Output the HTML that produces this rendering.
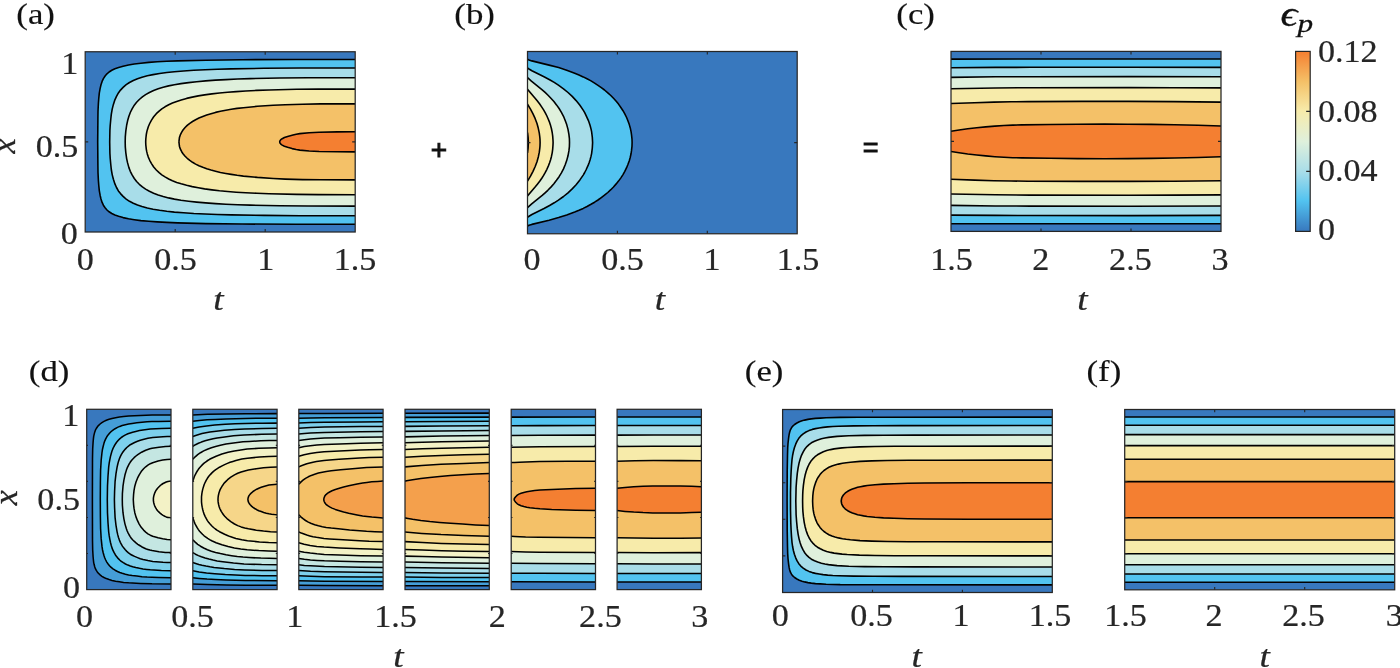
<!DOCTYPE html>
<html><head><meta charset="utf-8"><title>figure</title>
<style>html,body{margin:0;padding:0;background:#fff;overflow:hidden}svg{display:block}</style></head>
<body>
<svg width="1400" height="668" viewBox="0 0 1400 668">
<rect width="1400" height="668" fill="#fff"/>
<clipPath id="c1"><rect x="85.2" y="51.75" width="270" height="180.25"/></clipPath>
<g clip-path="url(#c1)">
<rect x="85.2" y="51.75" width="270" height="180.25" fill="#3878be"/>
<path d="M97.7 141.9L97.9 118.4L98 111.2L98.4 103.2L98.8 98.2L99.3 93.1L100.1 88.6L101 84.8L102.1 81.4L103.4 78.6L105.1 76L107 73.8L109.1 72L111.8 70.3L114.9 68.8L118.6 67.4L123.1 66.2L128.5 65L134.3 64L140.9 63.2L148.8 62.4L157.3 61.8L166.8 61.3L177.6 60.9L205.9 60.2L242.1 59.7L295.7 59.5L355.2 59.5L355.2 224.3L295.7 224.3L242.1 224L205.9 223.6L177.6 222.9L166.8 222.4L157.3 221.9L148.8 221.3L140.9 220.6L134.3 219.7L128.5 218.8L123.1 217.6L118.6 216.3L114.9 215L111.8 213.5L109.1 211.8L107 210L105.1 207.7L103.4 205.2L102.1 202.4L101 199L100.1 195.2L99.3 190.6L98.8 185.6L98.4 180.6L98 172.6L97.9 165.4L97.7 141.9Z" fill="#52c3f0"/>
<path d="M109.7 141.9L109.9 130.6L110.2 125.5L110.8 119L111.3 114.3L112.2 109.1L113.4 104.4L114.9 99.8L116.5 96.3L118.4 92.9L120.5 90.1L123.1 87.4L124.5 86.1L126.2 84.7L129.5 82.5L133.3 80.5L137.5 78.7L142 77.2L147.3 75.8L153.1 74.6L159.6 73.5L166.8 72.5L174.4 71.7L183.5 71L193.8 70.3L205.1 69.7L217.3 69.3L231.2 68.9L263.9 68.3L300.2 68L355.2 68L355.2 215.8L300.2 215.7L263.9 215.4L231.2 214.9L217.3 214.5L205.1 214L193.8 213.5L183.5 212.8L174.4 212.1L166.8 211.3L159.6 210.3L153.1 209.2L147.3 208L142 206.5L137.5 205L133.3 203.2L129.5 201.3L126.2 199.1L124.5 197.7L123.1 196.4L120.5 193.6L118.4 190.9L116.5 187.5L114.9 183.9L113.4 179.3L112.2 174.6L111.3 169.5L110.8 164.8L110.2 158.2L109.9 153.1L109.7 141.9Z" fill="#a8dde9"/>
<path d="M125.2 141.9L125.3 136.9L125.8 131.1L126.7 125L127.6 120.8L128.9 116.2L130.3 112.5L132.1 108.9L134.3 105.2L136.6 102.3L139.3 99.5L142.4 96.8L145.6 94.6L149.4 92.5L153.6 90.5L158.2 88.8L163.2 87.2L168.6 85.9L174.4 84.7L181 83.6L188.6 82.6L196.7 81.7L205.6 80.9L215.5 80.1L225.9 79.6L237.6 79L250.2 78.6L279.9 78L308.2 77.7L355.2 77.7L355.2 206.1L308.2 206L279.9 205.8L250.2 205.1L237.6 204.7L225.9 204.2L215.5 203.6L205.6 202.9L196.7 202.1L188.6 201.2L181 200.2L174.4 199.1L168.6 197.9L163.2 196.5L158.2 195L153.6 193.2L149.4 191.2L145.6 189.1L142.4 186.9L139.3 184.3L136.6 181.5L134.3 178.5L132.1 174.9L130.3 171.3L128.9 167.6L127.6 162.9L126.7 158.8L125.8 152.6L125.3 146.9L125.2 141.9Z" fill="#dff0dc"/>
<path d="M145.7 141.9L145.8 139L146.3 134.5L146.8 131.9L147.3 129.9L148.3 126.7L149.7 123.5L151.5 120.1L153.7 116.8L156.3 113.7L159.1 111.1L161.8 108.9L165 106.8L168.7 104.8L172.4 103.1L176.7 101.4L181.2 99.9L186.6 98.4L192.2 97.1L198.3 95.9L204.6 94.9L211.9 93.9L219.5 93L227.6 92.2L236.2 91.6L245.7 91L256.8 90.4L269.1 90L296.6 89.3L318.2 89.1L355.2 89.1L355.2 194.7L318.2 194.6L296.6 194.4L269.1 193.8L256.8 193.3L245.7 192.8L236.2 192.2L227.6 191.5L219.5 190.8L211.9 189.9L204.6 188.9L198.3 187.8L192.2 186.6L186.6 185.3L181.2 183.8L176.7 182.4L172.4 180.7L168.7 179L165 176.9L161.8 174.8L159.1 172.7L156.3 170L153.7 167L151.5 163.6L149.7 160.3L148.3 157.1L147.3 153.9L146.8 151.9L146.3 149.3L145.8 144.8L145.7 141.9Z" fill="#f7ebaa"/>
<path d="M178.9 141.9L179 141.2L179.4 137.8L179.6 137L180.3 134.9L181.7 132.1L183 130L185.1 127.5L187.2 125.4L189.8 123.3L192.5 121.5L195.6 119.7L198.9 118L202.8 116.4L206.7 115L211 113.7L215.5 112.4L220.4 111.3L225.8 110.2L231.2 109.3L237.1 108.4L243.4 107.7L257.4 106.3L273.2 105.3L285.3 104.7L302.5 104.2L320.5 103.9L355.2 103.9L355.2 179.9L320.5 179.8L302.5 179.6L285.3 179.1L273.2 178.5L257.4 177.4L243.4 176.1L237.1 175.3L231.2 174.4L225.8 173.5L220.4 172.5L215.5 171.3L211 170.1L206.7 168.8L202.8 167.3L198.9 165.7L195.6 164.1L192.5 162.3L189.8 160.4L187.2 158.3L185.1 156.2L183 153.7L181.7 151.7L180.3 148.9L179.6 146.8L179.4 146L179 142.5L178.9 141.9Z" fill="#f4c168"/>
<path d="M279.7 141.9L279.9 140.9L280.4 140.2L280.8 139.7L282.2 138.7L284.4 137.5L287.6 136.4L292.1 135.2L296.2 134.2L299.8 133.6L309.2 132.8L319.1 132.3L337.2 131.9L355.2 131.8L355.2 151.9L337.2 151.8L319.1 151.5L309.2 151L299.8 150.1L296.2 149.5L292.1 148.6L287.6 147.3L284.4 146.2L282.2 145.1L280.8 144.1L280.4 143.6L279.9 142.8L279.7 141.9Z" fill="#f47f31"/>
<path d="M355.2 59.5L295.7 59.5L242.1 59.7L205.9 60.2L177.6 60.9L166.8 61.3L157.3 61.8L148.8 62.4L140.9 63.2L134.3 64L128.5 65L123.1 66.2L118.6 67.4L114.9 68.8L111.8 70.3L109.1 72L107 73.8L105.1 76L103.4 78.6L102.1 81.4L101 84.8L100.1 88.6L99.3 93.1L98.8 98.2L98.4 103.2L98 111.2L97.9 118.4L97.7 141.9L97.7 141.9L97.9 165.4L98 172.6L98.4 180.6L98.8 185.6L99.3 190.6L100.1 195.2L101 199L102.1 202.4L103.4 205.2L105.1 207.7L107 210L109.1 211.8L111.8 213.5L114.9 215L118.6 216.3L123.1 217.6L128.5 218.8L134.3 219.7L140.9 220.6L148.8 221.3L157.3 221.9L166.8 222.4L177.6 222.9L205.9 223.6L242.1 224L295.7 224.3L355.2 224.3 M355.2 68L300.2 68L263.9 68.3L231.2 68.9L217.3 69.3L205.1 69.7L193.8 70.3L183.5 71L174.4 71.7L166.8 72.5L159.6 73.5L153.1 74.6L147.3 75.8L142 77.2L137.5 78.7L133.3 80.5L129.5 82.5L126.2 84.7L124.5 86.1L123.1 87.4L120.5 90.1L118.4 92.9L116.5 96.3L114.9 99.8L113.4 104.4L112.2 109.1L111.3 114.3L110.8 119L110.2 125.5L109.9 130.6L109.7 141.9L109.7 141.9L109.9 153.1L110.2 158.2L110.8 164.8L111.3 169.5L112.2 174.6L113.4 179.3L114.9 183.9L116.5 187.5L118.4 190.9L120.5 193.6L123.1 196.4L124.5 197.7L126.2 199.1L129.5 201.3L133.3 203.2L137.5 205L142 206.5L147.3 208L153.1 209.2L159.6 210.3L166.8 211.3L174.4 212.1L183.5 212.8L193.8 213.5L205.1 214L217.3 214.5L231.2 214.9L263.9 215.4L300.2 215.7L355.2 215.8 M355.2 77.7L308.2 77.7L279.9 78L250.2 78.6L237.6 79L225.9 79.6L215.5 80.1L205.6 80.9L196.7 81.7L188.6 82.6L181 83.6L174.4 84.7L168.6 85.9L163.2 87.2L158.2 88.8L153.6 90.5L149.4 92.5L145.6 94.6L142.4 96.8L139.3 99.5L136.6 102.3L134.3 105.2L132.1 108.9L130.3 112.5L128.9 116.2L127.6 120.8L126.7 125L125.8 131.1L125.3 136.9L125.2 141.9L125.2 141.9L125.3 146.9L125.8 152.6L126.7 158.8L127.6 162.9L128.9 167.6L130.3 171.3L132.1 174.9L134.3 178.5L136.6 181.5L139.3 184.3L142.4 186.9L145.6 189.1L149.4 191.2L153.6 193.2L158.2 195L163.2 196.5L168.6 197.9L174.4 199.1L181 200.2L188.6 201.2L196.7 202.1L205.6 202.9L215.5 203.6L225.9 204.2L237.6 204.7L250.2 205.1L279.9 205.8L308.2 206L355.2 206.1 M355.2 89.1L318.2 89.1L296.6 89.3L269.1 90L256.8 90.4L245.7 91L236.2 91.6L227.6 92.2L219.5 93L211.9 93.9L204.6 94.9L198.3 95.9L192.2 97.1L186.6 98.4L181.2 99.9L176.7 101.4L172.4 103.1L168.7 104.8L165 106.8L161.8 108.9L159.1 111.1L156.3 113.7L153.7 116.8L151.5 120.1L149.7 123.5L148.3 126.7L147.3 129.9L146.8 131.9L146.3 134.5L145.8 139L145.7 141.9L145.7 141.9L145.8 144.8L146.3 149.3L146.8 151.9L147.3 153.9L148.3 157.1L149.7 160.3L151.5 163.6L153.7 167L156.3 170L159.1 172.7L161.8 174.8L165 176.9L168.7 179L172.4 180.7L176.7 182.4L181.2 183.8L186.6 185.3L192.2 186.6L198.3 187.8L204.6 188.9L211.9 189.9L219.5 190.8L227.6 191.5L236.2 192.2L245.7 192.8L256.8 193.3L269.1 193.8L296.6 194.4L318.2 194.6L355.2 194.7 M355.2 103.9L320.5 103.9L302.5 104.2L285.3 104.7L273.2 105.3L257.4 106.3L243.4 107.7L237.1 108.4L231.2 109.3L225.8 110.2L220.4 111.3L215.5 112.4L211 113.7L206.7 115L202.8 116.4L198.9 118L195.6 119.7L192.5 121.5L189.8 123.3L187.2 125.4L185.1 127.5L183 130L181.7 132.1L180.3 134.9L179.6 137L179.4 137.8L179 141.2L178.9 141.9L178.9 141.9L179 142.5L179.4 146L179.6 146.8L180.3 148.9L181.7 151.7L183 153.7L185.1 156.2L187.2 158.3L189.8 160.4L192.5 162.3L195.6 164.1L198.9 165.7L202.8 167.3L206.7 168.8L211 170.1L215.5 171.3L220.4 172.5L225.8 173.5L231.2 174.4L237.1 175.3L243.4 176.1L257.4 177.4L273.2 178.5L285.3 179.1L302.5 179.6L320.5 179.8L355.2 179.9 M355.2 131.8L337.2 131.9L319.1 132.3L309.2 132.8L299.8 133.6L296.2 134.2L292.1 135.2L287.6 136.4L284.4 137.5L282.2 138.7L280.8 139.7L280.4 140.2L279.9 140.9L279.7 141.9L279.7 141.9L279.9 142.8L280.4 143.6L280.8 144.1L282.2 145.1L284.4 146.2L287.6 147.3L292.1 148.6L296.2 149.5L299.8 150.1L309.2 151L319.1 151.5L337.2 151.8L355.2 151.9" fill="none" stroke="#000" stroke-width="1.6" stroke-linejoin="round"/>
</g>
<path d="M175.2 232 v-3 M175.2 51.75 v3 M265.2 232 v-3 M265.2 51.75 v3 M85.2 141.88 h3 M355.2 141.88 h-3" stroke="#262626" stroke-width="1.12" fill="none"/>
<rect x="85.2" y="51.75" width="270" height="180.25" fill="none" stroke="#262626" stroke-width="1.25"/>
<clipPath id="c2"><rect x="527.5" y="51.5" width="269.7" height="182.25"/></clipPath>
<g clip-path="url(#c2)">
<rect x="527.5" y="51.5" width="269.7" height="182.25" fill="#3878be"/>
<path d="M527.5 59.3L529 60L531.8 60.9L549.1 65.1L558.6 67.6L566.7 70.2L574.7 73.2L579 75L583.2 76.9L587 78.8L591 80.9L594.6 83.1L598 85.3L601.3 87.6L604.5 90L607.8 92.8L610.8 95.5L613.5 98.3L616.2 101.3L618.5 104.1L620.7 107.2L623 110.7L624.8 113.9L626.6 117.5L627.9 120.7L629.3 124.6L630.2 127.7L631.1 131.8L631.5 134.6L632 139.2L632.1 142.6L632.1 142.6L632 146.1L631.5 150.7L631.1 153.5L630.2 157.5L629.3 160.7L627.9 164.5L626.6 167.7L624.8 171.4L623 174.6L620.7 178.1L618.5 181.1L616.2 183.9L613.5 187L610.8 189.7L607.8 192.5L604.5 195.2L601.3 197.6L598 200L594.6 202.2L591 204.3L587 206.5L583.2 208.4L579 210.3L574.7 212.1L566.7 215L558.6 217.6L549.1 220.2L531.8 224.4L529 225.2L527.5 226Z" fill="#52c3f0"/>
<path d="M527.5 67.9L529.4 69.3L531.9 70.8L544 76.8L549.6 79.7L554.2 82.4L558.4 85.2L563.5 88.8L568 92.5L572.2 96.4L576.1 100.6L578.1 103L579.9 105.3L583.2 110.1L584.7 112.7L586 115.3L588.3 120.3L589.2 122.7L590.1 125.5L591 128.9L591.6 131.7L592.3 137.1L592.6 142.6L592.6 142.6L592.3 148.2L591.6 153.6L591 156.4L590.1 159.7L589.2 162.5L588.3 164.9L586 170L584.7 172.5L583.2 175.1L579.9 179.9L578.1 182.2L576.1 184.7L572.2 188.9L568 192.8L563.5 196.5L558.4 200.1L554.2 202.8L549.6 205.5L544 208.5L531.9 214.5L529.4 216L527.5 217.3Z" fill="#a8dde9"/>
<path d="M527.5 77.7L531.4 81.2L542.2 89.9L545.1 92.4L547.8 95L550.9 98.2L553.9 101.5L556.5 104.9L559.1 108.5L561.4 112.3L563.5 116.3L565.2 120.5L566.7 124.6L568 129.4L568.9 134.3L569.4 138.6L569.5 142.6L569.5 142.6L569.4 146.6L568.9 150.9L568 155.8L566.7 160.6L565.2 164.8L563.5 168.9L561.4 172.9L559.1 176.7L556.5 180.3L553.9 183.7L550.9 187.1L547.8 190.3L545.1 192.8L542.2 195.4L531.4 204.1L527.5 207.6Z" fill="#dff0dc"/>
<path d="M527.5 89.3L534.9 97.9L537.4 101L539.7 104L541.8 107.1L543.6 109.9L545.3 112.9L546.9 116L548.3 119.2L549.6 122.4L550.6 125.6L551.4 128.5L552.2 132.5L552.7 136.1L553 140.3L553.1 142.6L553.1 142.6L553 144.9L552.7 149.2L552.2 152.8L551.4 156.7L550.6 159.7L549.6 162.8L548.3 166.1L546.9 169.3L545.3 172.4L543.6 175.4L541.8 178.2L539.7 181.3L537.4 184.2L534.9 187.3L527.5 196Z" fill="#f7ebaa"/>
<path d="M527.5 104.2L530.5 109.1L533 113.9L535.2 118.7L537 123.5L538.3 128.3L539.3 133.1L539.8 137L540 139.3L540.1 142.6L540.1 142.6L540 145.9L539.8 148.2L539.3 152.2L538.3 157L537 161.7L535.2 166.5L533 171.3L530.5 176.2L527.5 181.1Z" fill="#f4c168"/>
<path d="M527.5 132.5L528.1 137.4L528.4 142.6L528.4 142.6L528.1 147.8L527.5 152.8Z" fill="#f47f31"/>
<path d="M527.5 59.3L529 60L531.8 60.9L549.1 65.1L558.6 67.6L566.7 70.2L574.7 73.2L579 75L583.2 76.9L587 78.8L591 80.9L594.6 83.1L598 85.3L601.3 87.6L604.5 90L607.8 92.8L610.8 95.5L613.5 98.3L616.2 101.3L618.5 104.1L620.7 107.2L623 110.7L624.8 113.9L626.6 117.5L627.9 120.7L629.3 124.6L630.2 127.7L631.1 131.8L631.5 134.6L632 139.2L632.1 142.6L632.1 142.6L632 146.1L631.5 150.7L631.1 153.5L630.2 157.5L629.3 160.7L627.9 164.5L626.6 167.7L624.8 171.4L623 174.6L620.7 178.1L618.5 181.1L616.2 183.9L613.5 187L610.8 189.7L607.8 192.5L604.5 195.2L601.3 197.6L598 200L594.6 202.2L591 204.3L587 206.5L583.2 208.4L579 210.3L574.7 212.1L566.7 215L558.6 217.6L549.1 220.2L531.8 224.4L529 225.2L527.5 226 M527.5 67.9L529.4 69.3L531.9 70.8L544 76.8L549.6 79.7L554.2 82.4L558.4 85.2L563.5 88.8L568 92.5L572.2 96.4L576.1 100.6L578.1 103L579.9 105.3L583.2 110.1L584.7 112.7L586 115.3L588.3 120.3L589.2 122.7L590.1 125.5L591 128.9L591.6 131.7L592.3 137.1L592.6 142.6L592.6 142.6L592.3 148.2L591.6 153.6L591 156.4L590.1 159.7L589.2 162.5L588.3 164.9L586 170L584.7 172.5L583.2 175.1L579.9 179.9L578.1 182.2L576.1 184.7L572.2 188.9L568 192.8L563.5 196.5L558.4 200.1L554.2 202.8L549.6 205.5L544 208.5L531.9 214.5L529.4 216L527.5 217.3 M527.5 77.7L531.4 81.2L542.2 89.9L545.1 92.4L547.8 95L550.9 98.2L553.9 101.5L556.5 104.9L559.1 108.5L561.4 112.3L563.5 116.3L565.2 120.5L566.7 124.6L568 129.4L568.9 134.3L569.4 138.6L569.5 142.6L569.5 142.6L569.4 146.6L568.9 150.9L568 155.8L566.7 160.6L565.2 164.8L563.5 168.9L561.4 172.9L559.1 176.7L556.5 180.3L553.9 183.7L550.9 187.1L547.8 190.3L545.1 192.8L542.2 195.4L531.4 204.1L527.5 207.6 M527.5 89.3L534.9 97.9L537.4 101L539.7 104L541.8 107.1L543.6 109.9L545.3 112.9L546.9 116L548.3 119.2L549.6 122.4L550.6 125.6L551.4 128.5L552.2 132.5L552.7 136.1L553 140.3L553.1 142.6L553.1 142.6L553 144.9L552.7 149.2L552.2 152.8L551.4 156.7L550.6 159.7L549.6 162.8L548.3 166.1L546.9 169.3L545.3 172.4L543.6 175.4L541.8 178.2L539.7 181.3L537.4 184.2L534.9 187.3L527.5 196 M527.5 104.2L530.5 109.1L533 113.9L535.2 118.7L537 123.5L538.3 128.3L539.3 133.1L539.8 137L540 139.3L540.1 142.6L540.1 142.6L540 145.9L539.8 148.2L539.3 152.2L538.3 157L537 161.7L535.2 166.5L533 171.3L530.5 176.2L527.5 181.1 M527.5 132.5L528.1 137.4L528.4 142.6L528.4 142.6L528.1 147.8L527.5 152.8" fill="none" stroke="#000" stroke-width="1.6" stroke-linejoin="round"/>
</g>
<path d="M617.4 233.75 v-3 M617.4 51.5 v3 M707.3 233.75 v-3 M707.3 51.5 v3 M527.5 142.62 h3 M797.2 142.62 h-3" stroke="#262626" stroke-width="1.12" fill="none"/>
<rect x="527.5" y="51.5" width="269.7" height="182.25" fill="none" stroke="#262626" stroke-width="1.25"/>
<clipPath id="c3"><rect x="951" y="51.4" width="270" height="180"/></clipPath>
<g clip-path="url(#c3)">
<rect x="951" y="51.4" width="270" height="180" fill="#3878be"/>
<path d="M951 59.1L1031.2 59L1221 59L1221 223.8L1031.2 223.8L951 223.7Z" fill="#52c3f0"/>
<path d="M951 67.7L995.7 67.4L1030.8 67.3L1129 67.2L1221 67.4L1221 215.4L1129 215.6L1030.8 215.5L995.7 215.4L951 215.1Z" fill="#a8dde9"/>
<path d="M951 77.4L995.3 76.8L1030.3 76.7L1129 76.6L1221 76.8L1221 206L1129 206.2L1030.3 206.1L995.3 206L951 205.4Z" fill="#dff0dc"/>
<path d="M951 88.8L995.2 88L1029.9 87.7L1129 87.6L1173.7 87.7L1221 87.9L1221 194.9L1173.7 195.1L1129 195.2L1029.9 195.1L995.2 194.8L951 194Z" fill="#f7ebaa"/>
<path d="M951 103.5L974.6 102.7L993.8 102.1L1011.1 101.8L1028.1 101.6L1081.7 101.4L1128.6 101.4L1173.7 101.6L1221 102.1L1221 180.7L1173.7 181.2L1128.6 181.4L1081.7 181.4L1028.1 181.2L1011.1 181L993.8 180.7L974.6 180.1L951 179.3Z" fill="#f4c168"/>
<path d="M951 131.3L959.1 130L967.7 128.8L976.7 127.8L985.7 126.9L994.9 126.1L1003.9 125.5L1012.8 125.1L1021.6 124.9L1050.2 124.5L1077.7 124.2L1104.7 124.1L1127.6 124.2L1151 124.4L1174.6 124.8L1198 125.3L1221 126L1221 156.8L1198 157.5L1174.6 158L1151 158.4L1127.6 158.6L1104.7 158.7L1077.7 158.6L1050.2 158.3L1021.6 157.9L1012.8 157.7L1003.9 157.3L994.9 156.7L985.7 155.9L976.7 155L967.7 154L959.1 152.8L951 151.5Z" fill="#f47f31"/>
<path d="M951 59.1L1031.2 59L1221 59 M951 223.7L1031.2 223.8L1221 223.8 M951 67.7L995.7 67.4L1030.8 67.3L1129 67.2L1221 67.4 M951 215.1L995.7 215.4L1030.8 215.5L1129 215.6L1221 215.4 M951 77.4L995.3 76.8L1030.3 76.7L1129 76.6L1221 76.8 M951 205.4L995.3 206L1030.3 206.1L1129 206.2L1221 206 M951 88.8L995.2 88L1029.9 87.7L1129 87.6L1173.7 87.7L1221 87.9 M951 194L995.2 194.8L1029.9 195.1L1129 195.2L1173.7 195.1L1221 194.9 M951 103.5L974.6 102.7L993.8 102.1L1011.1 101.8L1028.1 101.6L1081.7 101.4L1128.6 101.4L1173.7 101.6L1221 102.1 M951 179.3L974.6 180.1L993.8 180.7L1011.1 181L1028.1 181.2L1081.7 181.4L1128.6 181.4L1173.7 181.2L1221 180.7 M951 131.3L959.1 130L967.7 128.8L976.7 127.8L985.7 126.9L994.9 126.1L1003.9 125.5L1012.8 125.1L1021.6 124.9L1050.2 124.5L1077.7 124.2L1104.7 124.1L1127.6 124.2L1151 124.4L1174.6 124.8L1198 125.3L1221 126 M951 151.5L959.1 152.8L967.7 154L976.7 155L985.7 155.9L994.9 156.7L1003.9 157.3L1012.8 157.7L1021.6 157.9L1050.2 158.3L1077.7 158.6L1104.7 158.7L1127.6 158.6L1151 158.4L1174.6 158L1198 157.5L1221 156.8" fill="none" stroke="#000" stroke-width="1.6" stroke-linejoin="round"/>
</g>
<path d="M1041 231.4 v-3 M1041 51.4 v3 M1131 231.4 v-3 M1131 51.4 v3 M951 141.4 h3 M1221 141.4 h-3" stroke="#262626" stroke-width="1.12" fill="none"/>
<rect x="951" y="51.4" width="270" height="180" fill="none" stroke="#262626" stroke-width="1.25"/>
<clipPath id="c4"><rect x="86.7" y="409.3" width="84.3" height="180.3"/></clipPath>
<g clip-path="url(#c4)">
<rect x="86.7" y="409.3" width="84.3" height="180.3" fill="#3878be"/>
<path d="M92.4 499.5L92.5 458.8L92.7 448.8L93.1 442.1L93.4 438.9L93.7 436.3L94.2 434.1L94.8 431.9L95.4 430.2L96.3 428.5L97.3 427L98.4 425.6L100.1 424L101.9 422.6L104 421.4L106.3 420.3L109.1 419.3L112 418.5L115.6 417.7L119.4 417.1L123.6 416.5L128.6 416.1L140.3 415.5L152 415.1L171 414.9L171 584L152 583.8L140.3 583.4L128.6 582.8L123.6 582.4L119.4 581.8L115.6 581.2L112 580.4L109.1 579.6L106.3 578.6L104 577.5L101.9 576.3L100.1 574.9L98.4 573.3L97.3 571.9L96.3 570.4L95.4 568.7L94.8 567L94.2 564.8L93.7 562.6L93.4 560L93.1 556.8L92.7 550.1L92.5 540.1L92.4 499.5Z" fill="#459ed7"/>
<path d="M100.3 499.5L100.4 482.5L100.6 470.1L101.2 460L102 452.5L102.5 449.2L103.2 446.2L103.9 443.6L104.7 441.1L105.7 438.9L106.8 436.8L108.1 434.9L109.5 433.2L111.2 431.5L113 430.1L115.1 428.7L117.5 427.4L119.8 426.4L122.2 425.6L125.4 424.7L128.6 424L132.2 423.4L136.9 422.8L142 422.2L147.1 421.8L151.9 421.6L158.6 421.4L171 421.2L171 577.7L158.6 577.5L151.9 577.3L147.1 577.1L142 576.7L136.9 576.1L132.2 575.5L128.6 574.9L125.4 574.2L122.2 573.3L119.8 572.5L117.5 571.5L115.1 570.2L113 568.8L111.2 567.4L109.5 565.7L108.1 564L106.8 562.1L105.7 560L104.7 557.8L103.9 555.3L103.2 552.7L102.5 549.7L102 546.4L101.2 538.9L100.6 528.8L100.4 516.4L100.3 499.5Z" fill="#52c3f0"/>
<path d="M107.3 499.5L107.5 485.9L108 476.2L108.7 466.9L109.2 463.2L109.8 459.8L110.5 456.4L111.2 453.7L112 451L112.9 448.7L114 446.5L115.3 444.2L116.6 442.3L118.1 440.5L119.7 438.9L121.3 437.5L123.3 436.2L125.5 434.9L127.9 433.8L130.3 432.9L132.7 432.2L135.8 431.4L139.5 430.6L143 430L146.7 429.5L150.2 429.1L161.4 428.5L171 428.2L171 570.7L161.4 570.4L150.2 569.8L146.7 569.4L143 568.9L139.5 568.3L135.8 567.5L132.7 566.7L130.3 566L127.9 565.1L125.5 564L123.3 562.7L121.3 561.4L119.7 560L118.1 558.4L116.6 556.6L115.3 554.7L114 552.4L112.9 550.2L112 547.9L111.2 545.2L110.5 542.5L109.8 539.1L109.2 535.7L108.7 532L108 522.7L107.5 513L107.3 499.5Z" fill="#7dd0ec"/>
<path d="M114.4 499.5L114.6 491.3L115.1 481.3L116 473.6L117.1 467.1L117.8 464L118.5 461.4L119.4 458.8L120.3 456.6L121.3 454.7L122.4 452.8L123.9 450.8L125.3 449.1L126.8 447.5L128.5 446.1L130.3 444.7L132.2 443.7L134.6 442.5L137.5 441.3L140.3 440.2L143.1 439.4L147.9 438.3L152.8 437.5L163 436.7L167.2 436.5L171 436.4L171 562.5L167.2 562.4L163 562.2L152.8 561.4L147.9 560.6L143.1 559.5L140.3 558.7L137.5 557.6L134.6 556.4L132.2 555.2L130.3 554.2L128.5 552.8L126.8 551.4L125.3 549.8L123.9 548.1L122.4 546.1L121.3 544.2L120.3 542.3L119.4 540.1L118.5 537.5L117.8 534.9L117.1 531.8L116 525.3L115.1 517.6L114.6 507.6L114.4 499.5Z" fill="#a8dde9"/>
<path d="M122.3 499.5L122.4 493.6L123 486.2L123.9 480.1L125 474.8L126.4 470.1L127.2 467.9L128.2 465.8L129.2 463.9L130.2 462.3L131.3 460.7L132.6 459.2L134.1 457.7L136 456L137.8 454.6L139.7 453.4L141.6 452.2L143.6 451.2L145.7 450.2L147.8 449.5L149.9 448.8L152.1 448.3L159 447.2L165.4 446.5L171 446.3L171 552.6L165.4 552.4L159 551.7L152.1 550.6L149.9 550.1L147.8 549.4L145.7 548.7L143.6 547.7L141.6 546.7L139.7 545.5L137.8 544.3L136 542.9L134.1 541.2L132.6 539.7L131.3 538.2L130.2 536.6L129.2 535L128.2 533.1L127.2 531L126.4 528.8L125 524.1L123.9 518.8L123 512.7L122.4 505.3L122.3 499.5Z" fill="#c4e6e2"/>
<path d="M133.3 499.5L133.6 494.3L134 490.7L134.8 486.2L136 482L137.5 478.2L139.2 474.8L141.2 471.6L143.6 468.8L145.7 466.8L147.9 465.1L150.3 463.7L152.7 462.7L158.1 461.1L162.7 460.1L167.1 459.4L171 459.2L171 539.7L167.1 539.5L162.7 538.8L158.1 537.8L152.7 536.2L150.3 535.2L147.9 533.8L145.7 532.1L143.6 530.1L141.2 527.3L139.2 524.1L137.5 520.7L136 516.9L134.8 512.7L134 508.2L133.6 504.6L133.3 499.5Z" fill="#dff0dc"/>
<path d="M153.4 499.5L153.4 498.2L153.8 495.9L154.3 494.2L154.8 492.8L155.6 491.2L156.5 489.7L157.6 488.2L158.8 487L160.1 485.7L161.6 484.5L163.1 483.5L164.7 482.7L166.2 482L167.9 481.5L169.5 481.3L171 481.2L171 517.7L169.5 517.6L167.9 517.4L166.2 516.9L164.7 516.2L163.1 515.4L161.6 514.4L160.1 513.2L158.8 511.9L157.6 510.7L156.5 509.2L155.6 507.7L154.8 506.1L154.3 504.7L153.8 503L153.4 500.7L153.4 499.5Z" fill="#f3f2c6"/>
<path d="M171 414.9L152 415.1L140.3 415.5L128.6 416.1L123.6 416.5L119.4 417.1L115.6 417.7L112 418.5L109.1 419.3L106.3 420.3L104 421.4L101.9 422.6L100.1 424L98.4 425.6L97.3 427L96.3 428.5L95.4 430.2L94.8 431.9L94.2 434.1L93.7 436.3L93.4 438.9L93.1 442.1L92.7 448.8L92.5 458.8L92.4 499.5L92.4 499.5L92.5 540.1L92.7 550.1L93.1 556.8L93.4 560L93.7 562.6L94.2 564.8L94.8 567L95.4 568.7L96.3 570.4L97.3 571.9L98.4 573.3L100.1 574.9L101.9 576.3L104 577.5L106.3 578.6L109.1 579.6L112 580.4L115.6 581.2L119.4 581.8L123.6 582.4L128.6 582.8L140.3 583.4L152 583.8L171 584 M171 421.2L158.6 421.4L151.9 421.6L147.1 421.8L142 422.2L136.9 422.8L132.2 423.4L128.6 424L125.4 424.7L122.2 425.6L119.8 426.4L117.5 427.4L115.1 428.7L113 430.1L111.2 431.5L109.5 433.2L108.1 434.9L106.8 436.8L105.7 438.9L104.7 441.1L103.9 443.6L103.2 446.2L102.5 449.2L102 452.5L101.2 460L100.6 470.1L100.4 482.5L100.3 499.5L100.3 499.5L100.4 516.4L100.6 528.8L101.2 538.9L102 546.4L102.5 549.7L103.2 552.7L103.9 555.3L104.7 557.8L105.7 560L106.8 562.1L108.1 564L109.5 565.7L111.2 567.4L113 568.8L115.1 570.2L117.5 571.5L119.8 572.5L122.2 573.3L125.4 574.2L128.6 574.9L132.2 575.5L136.9 576.1L142 576.7L147.1 577.1L151.9 577.3L158.6 577.5L171 577.7 M171 428.2L161.4 428.5L150.2 429.1L146.7 429.5L143 430L139.5 430.6L135.8 431.4L132.7 432.2L130.3 432.9L127.9 433.8L125.5 434.9L123.3 436.2L121.3 437.5L119.7 438.9L118.1 440.5L116.6 442.3L115.3 444.2L114 446.5L112.9 448.7L112 451L111.2 453.7L110.5 456.4L109.8 459.8L109.2 463.2L108.7 466.9L108 476.2L107.5 485.9L107.3 499.5L107.3 499.5L107.5 513L108 522.7L108.7 532L109.2 535.7L109.8 539.1L110.5 542.5L111.2 545.2L112 547.9L112.9 550.2L114 552.4L115.3 554.7L116.6 556.6L118.1 558.4L119.7 560L121.3 561.4L123.3 562.7L125.5 564L127.9 565.1L130.3 566L132.7 566.7L135.8 567.5L139.5 568.3L143 568.9L146.7 569.4L150.2 569.8L161.4 570.4L171 570.7 M171 436.4L167.2 436.5L163 436.7L152.8 437.5L147.9 438.3L143.1 439.4L140.3 440.2L137.5 441.3L134.6 442.5L132.2 443.7L130.3 444.7L128.5 446.1L126.8 447.5L125.3 449.1L123.9 450.8L122.4 452.8L121.3 454.7L120.3 456.6L119.4 458.8L118.5 461.4L117.8 464L117.1 467.1L116 473.6L115.1 481.3L114.6 491.3L114.4 499.5L114.4 499.5L114.6 507.6L115.1 517.6L116 525.3L117.1 531.8L117.8 534.9L118.5 537.5L119.4 540.1L120.3 542.3L121.3 544.2L122.4 546.1L123.9 548.1L125.3 549.8L126.8 551.4L128.5 552.8L130.3 554.2L132.2 555.2L134.6 556.4L137.5 557.6L140.3 558.7L143.1 559.5L147.9 560.6L152.8 561.4L163 562.2L167.2 562.4L171 562.5 M171 446.3L165.4 446.5L159 447.2L152.1 448.3L149.9 448.8L147.8 449.5L145.7 450.2L143.6 451.2L141.6 452.2L139.7 453.4L137.8 454.6L136 456L134.1 457.7L132.6 459.2L131.3 460.7L130.2 462.3L129.2 463.9L128.2 465.8L127.2 467.9L126.4 470.1L125 474.8L123.9 480.1L123 486.2L122.4 493.6L122.3 499.5L122.3 499.5L122.4 505.3L123 512.7L123.9 518.8L125 524.1L126.4 528.8L127.2 531L128.2 533.1L129.2 535L130.2 536.6L131.3 538.2L132.6 539.7L134.1 541.2L136 542.9L137.8 544.3L139.7 545.5L141.6 546.7L143.6 547.7L145.7 548.7L147.8 549.4L149.9 550.1L152.1 550.6L159 551.7L165.4 552.4L171 552.6 M171 459.2L167.1 459.4L162.7 460.1L158.1 461.1L152.7 462.7L150.3 463.7L147.9 465.1L145.7 466.8L143.6 468.8L141.2 471.6L139.2 474.8L137.5 478.2L136 482L134.8 486.2L134 490.7L133.6 494.3L133.3 499.5L133.3 499.5L133.6 504.6L134 508.2L134.8 512.7L136 516.9L137.5 520.7L139.2 524.1L141.2 527.3L143.6 530.1L145.7 532.1L147.9 533.8L150.3 535.2L152.7 536.2L158.1 537.8L162.7 538.8L167.1 539.5L171 539.7 M171 481.2L169.5 481.3L167.9 481.5L166.2 482L164.7 482.7L163.1 483.5L161.6 484.5L160.1 485.7L158.8 487L157.6 488.2L156.5 489.7L155.6 491.2L154.8 492.8L154.3 494.2L153.8 495.9L153.4 498.2L153.4 499.5L153.4 499.5L153.4 500.7L153.8 503L154.3 504.7L154.8 506.1L155.6 507.7L156.5 509.2L157.6 510.7L158.8 511.9L160.1 513.2L161.6 514.4L163.1 515.4L164.7 516.2L166.2 516.9L167.9 517.4L169.5 517.6L171 517.7" fill="none" stroke="#000" stroke-width="1.55" stroke-linejoin="round"/>
</g>
<path d="M86.7 553.54 h1.3 M171 553.54 h-1.3 M86.7 517.48 h1.3 M171 517.48 h-1.3 M86.7 481.42 h1.3 M171 481.42 h-1.3 M86.7 445.36 h1.3 M171 445.36 h-1.3" stroke="#262626" stroke-width="1.12" fill="none"/>
<rect x="86.7" y="409.3" width="84.3" height="180.3" fill="none" stroke="#262626" stroke-width="1.25"/>
<clipPath id="c5"><rect x="192.8" y="409.3" width="84.3" height="180.3"/></clipPath>
<g clip-path="url(#c5)">
<rect x="192.8" y="409.3" width="84.3" height="180.3" fill="#3878be"/>
<path d="M192.8 414.9L207.4 414.3L226.9 413.9L245.8 413.7L277.1 413.6L277.1 585.3L245.8 585.2L226.9 585L207.4 584.6L192.8 584Z" fill="#459ed7"/>
<path d="M192.8 421.2L199.3 420.5L207 419.8L215.3 419.4L226.2 418.9L245.4 418.4L277.1 418.2L277.1 580.7L245.4 580.5L226.2 580L215.3 579.5L207 579.1L199.3 578.4L192.8 577.7Z" fill="#52c3f0"/>
<path d="M192.8 428.2L199.1 427L206.5 425.9L214.8 425.1L225.3 424.3L235.3 423.8L245.2 423.5L262.4 423.2L277.1 423.1L277.1 575.8L262.4 575.7L245.2 575.4L235.3 575.1L225.3 574.6L214.8 573.8L206.5 573L199.1 571.9L192.8 570.7Z" fill="#7dd0ec"/>
<path d="M192.8 436.4L195.7 435.4L198.8 434.4L202 433.6L205.9 432.8L209.9 432.1L214.1 431.5L224.3 430.3L234.6 429.5L244.7 429L262.2 428.5L277.1 428.3L277.1 570.6L262.2 570.4L244.7 569.9L234.6 569.4L224.3 568.6L214.1 567.4L209.9 566.8L205.9 566.1L202 565.3L198.8 564.5L195.7 563.5L192.8 562.5Z" fill="#a8dde9"/>
<path d="M192.8 446.3L195.5 444.7L198.4 443.3L201.4 442.1L205.1 440.8L208.9 439.8L213.1 438.8L217.1 438L222.8 437.2L233.5 435.8L244 435L261.6 434.3L277.1 434.1L277.1 564.8L261.6 564.6L244 563.9L233.5 563.1L222.8 561.7L217.1 560.9L213.1 560.1L208.9 559.1L205.1 558.1L201.4 556.8L198.4 555.6L195.5 554.2L192.8 552.6Z" fill="#c4e6e2"/>
<path d="M192.8 459.2L195.2 456.8L197.7 454.6L200.5 452.7L203.7 450.9L207.4 449.2L211.4 447.7L215.6 446.5L220.4 445.3L226 444.1L231.6 443.2L237.3 442.4L243 441.8L249.2 441.4L260.8 440.8L269.2 440.6L277.1 440.5L277.1 558.4L269.2 558.3L260.8 558.1L249.2 557.5L243 557.1L237.3 556.5L231.6 555.7L226 554.8L220.4 553.6L215.6 552.4L211.4 551.2L207.4 549.7L203.7 548L200.5 546.2L197.7 544.3L195.2 542.1L192.8 539.7Z" fill="#dff0dc"/>
<path d="M192.8 481.2L194.3 476.8L195.2 474.8L196.2 472.9L197.3 471L198.4 469.3L199.6 467.7L201 466.2L202.5 464.6L204.1 463.1L205.9 461.8L207.7 460.5L209.6 459.3L211.7 458.2L216.1 456.2L221.9 454.1L228.1 452.3L234.3 450.9L240.8 449.9L247.1 449.1L258.8 448.3L268.4 447.9L277.1 447.7L277.1 551.2L268.4 551L258.8 550.6L247.1 549.8L240.8 549L234.3 548L228.1 546.6L221.9 544.8L216.1 542.7L211.7 540.7L209.6 539.6L207.7 538.4L205.9 537.1L204.1 535.8L202.5 534.3L201 532.7L199.6 531.2L198.4 529.6L197.3 527.9L196.2 526L195.2 524.1L194.3 522.1L192.8 517.7Z" fill="#f3f2c6"/>
<path d="M201.5 499.5L201.5 497L201.8 494.1L202.2 491.7L202.7 489.4L203.4 486.9L204.2 484.5L205.2 482.3L206.3 480.2L207.4 478.3L208.8 476.3L210.3 474.6L211.9 472.9L213.5 471.4L215.4 469.9L217.3 468.6L219.5 467.2L222.1 465.9L224.6 464.6L227.4 463.4L230.1 462.3L232.9 461.4L235.9 460.5L241.8 459.1L247.5 458.2L259.5 457L268.7 456.4L277.1 456.2L277.1 542.7L268.7 542.5L259.5 541.9L247.5 540.7L241.8 539.8L235.9 538.4L232.9 537.5L230.1 536.6L227.4 535.5L224.6 534.3L222.1 533L219.5 531.7L217.3 530.3L215.4 529L213.5 527.5L211.9 526L210.3 524.3L208.8 522.6L207.4 520.6L206.3 518.7L205.2 516.6L204.2 514.4L203.4 512L202.7 509.5L202.2 507.2L201.8 504.8L201.5 501.9L201.5 499.5Z" fill="#f7ebaa"/>
<path d="M218 499.5L218.1 497.5L218.3 495.9L218.7 494L219.1 492.4L219.8 490.4L220.5 488.9L221.4 487.3L222.4 485.7L223.5 484.1L224.7 482.6L226.2 481.1L227.6 479.7L230.8 477.2L234.5 474.9L237.7 473.3L241.1 472L244.7 470.9L248.4 470.1L256.3 468.7L263.5 467.8L270.5 467.2L277.1 466.9L277.1 532L270.5 531.7L263.5 531.1L256.3 530.2L248.4 528.8L244.7 528L241.1 526.9L237.7 525.6L234.5 524L230.8 521.7L227.6 519.2L226.2 517.8L224.7 516.3L223.5 514.8L222.4 513.2L221.4 511.6L220.5 510L219.8 508.5L219.1 506.5L218.7 504.9L218.3 503L218.1 501.4L218 499.5Z" fill="#f6d689"/>
<path d="M247.9 499.5L248.1 497.9L248.5 496.7L249.2 495.4L250.2 494.1L251.5 492.8L253 491.5L254.7 490.4L256.7 489.2L258.8 488.2L261.2 487.3L263.7 486.4L266.3 485.7L268.9 485.1L271.6 484.7L274.4 484.4L277.1 484.2L277.1 514.7L274.4 514.5L271.6 514.2L268.9 513.8L266.3 513.2L263.7 512.5L261.2 511.6L258.8 510.7L256.7 509.7L254.7 508.5L253 507.4L251.5 506.1L250.2 504.8L249.2 503.5L248.5 502.2L248.1 501L247.9 499.5Z" fill="#f4c168"/>
<path d="M192.8 414.9L207.4 414.3L226.9 413.9L245.8 413.7L277.1 413.6 M192.8 584L207.4 584.6L226.9 585L245.8 585.2L277.1 585.3 M192.8 421.2L199.3 420.5L207 419.8L215.3 419.4L226.2 418.9L245.4 418.4L277.1 418.2 M192.8 577.7L199.3 578.4L207 579.1L215.3 579.5L226.2 580L245.4 580.5L277.1 580.7 M192.8 428.2L199.1 427L206.5 425.9L214.8 425.1L225.3 424.3L235.3 423.8L245.2 423.5L262.4 423.2L277.1 423.1 M192.8 570.7L199.1 571.9L206.5 573L214.8 573.8L225.3 574.6L235.3 575.1L245.2 575.4L262.4 575.7L277.1 575.8 M192.8 436.4L195.7 435.4L198.8 434.4L202 433.6L205.9 432.8L209.9 432.1L214.1 431.5L224.3 430.3L234.6 429.5L244.7 429L262.2 428.5L277.1 428.3 M192.8 562.5L195.7 563.5L198.8 564.5L202 565.3L205.9 566.1L209.9 566.8L214.1 567.4L224.3 568.6L234.6 569.4L244.7 569.9L262.2 570.4L277.1 570.6 M192.8 446.3L195.5 444.7L198.4 443.3L201.4 442.1L205.1 440.8L208.9 439.8L213.1 438.8L217.1 438L222.8 437.2L233.5 435.8L244 435L261.6 434.3L277.1 434.1 M192.8 552.6L195.5 554.2L198.4 555.6L201.4 556.8L205.1 558.1L208.9 559.1L213.1 560.1L217.1 560.9L222.8 561.7L233.5 563.1L244 563.9L261.6 564.6L277.1 564.8 M192.8 459.2L195.2 456.8L197.7 454.6L200.5 452.7L203.7 450.9L207.4 449.2L211.4 447.7L215.6 446.5L220.4 445.3L226 444.1L231.6 443.2L237.3 442.4L243 441.8L249.2 441.4L260.8 440.8L269.2 440.6L277.1 440.5 M192.8 539.7L195.2 542.1L197.7 544.3L200.5 546.2L203.7 548L207.4 549.7L211.4 551.2L215.6 552.4L220.4 553.6L226 554.8L231.6 555.7L237.3 556.5L243 557.1L249.2 557.5L260.8 558.1L269.2 558.3L277.1 558.4 M192.8 481.2L194.3 476.8L195.2 474.8L196.2 472.9L197.3 471L198.4 469.3L199.6 467.7L201 466.2L202.5 464.6L204.1 463.1L205.9 461.8L207.7 460.5L209.6 459.3L211.7 458.2L216.1 456.2L221.9 454.1L228.1 452.3L234.3 450.9L240.8 449.9L247.1 449.1L258.8 448.3L268.4 447.9L277.1 447.7 M192.8 517.7L194.3 522.1L195.2 524.1L196.2 526L197.3 527.9L198.4 529.6L199.6 531.2L201 532.7L202.5 534.3L204.1 535.8L205.9 537.1L207.7 538.4L209.6 539.6L211.7 540.7L216.1 542.7L221.9 544.8L228.1 546.6L234.3 548L240.8 549L247.1 549.8L258.8 550.6L268.4 551L277.1 551.2 M277.1 456.2L268.7 456.4L259.5 457L247.5 458.2L241.8 459.1L235.9 460.5L232.9 461.4L230.1 462.3L227.4 463.4L224.6 464.6L222.1 465.9L219.5 467.2L217.3 468.6L215.4 469.9L213.5 471.4L211.9 472.9L210.3 474.6L208.8 476.3L207.4 478.3L206.3 480.2L205.2 482.3L204.2 484.5L203.4 486.9L202.7 489.4L202.2 491.7L201.8 494.1L201.5 497L201.5 499.5L201.5 499.5L201.5 501.9L201.8 504.8L202.2 507.2L202.7 509.5L203.4 512L204.2 514.4L205.2 516.6L206.3 518.7L207.4 520.6L208.8 522.6L210.3 524.3L211.9 526L213.5 527.5L215.4 529L217.3 530.3L219.5 531.7L222.1 533L224.6 534.3L227.4 535.5L230.1 536.6L232.9 537.5L235.9 538.4L241.8 539.8L247.5 540.7L259.5 541.9L268.7 542.5L277.1 542.7 M277.1 466.9L270.5 467.2L263.5 467.8L256.3 468.7L248.4 470.1L244.7 470.9L241.1 472L237.7 473.3L234.5 474.9L230.8 477.2L227.6 479.7L226.2 481.1L224.7 482.6L223.5 484.1L222.4 485.7L221.4 487.3L220.5 488.9L219.8 490.4L219.1 492.4L218.7 494L218.3 495.9L218.1 497.5L218 499.5L218 499.5L218.1 501.4L218.3 503L218.7 504.9L219.1 506.5L219.8 508.5L220.5 510L221.4 511.6L222.4 513.2L223.5 514.8L224.7 516.3L226.2 517.8L227.6 519.2L230.8 521.7L234.5 524L237.7 525.6L241.1 526.9L244.7 528L248.4 528.8L256.3 530.2L263.5 531.1L270.5 531.7L277.1 532 M277.1 484.2L274.4 484.4L271.6 484.7L268.9 485.1L266.3 485.7L263.7 486.4L261.2 487.3L258.8 488.2L256.7 489.2L254.7 490.4L253 491.5L251.5 492.8L250.2 494.1L249.2 495.4L248.5 496.7L248.1 497.9L247.9 499.5L247.9 499.5L248.1 501L248.5 502.2L249.2 503.5L250.2 504.8L251.5 506.1L253 507.4L254.7 508.5L256.7 509.7L258.8 510.7L261.2 511.6L263.7 512.5L266.3 513.2L268.9 513.8L271.6 514.2L274.4 514.5L277.1 514.7" fill="none" stroke="#000" stroke-width="1.55" stroke-linejoin="round"/>
</g>
<path d="M192.8 553.54 h1.3 M277.1 553.54 h-1.3 M192.8 517.48 h1.3 M277.1 517.48 h-1.3 M192.8 481.42 h1.3 M277.1 481.42 h-1.3 M192.8 445.36 h1.3 M277.1 445.36 h-1.3" stroke="#262626" stroke-width="1.12" fill="none"/>
<rect x="192.8" y="409.3" width="84.3" height="180.3" fill="none" stroke="#262626" stroke-width="1.25"/>
<clipPath id="c6"><rect x="298.8" y="409.3" width="84.3" height="180.3"/></clipPath>
<g clip-path="url(#c6)">
<rect x="298.8" y="409.3" width="84.3" height="180.3" fill="#3878be"/>
<path d="M298.8 413.6L324.7 413.4L383.1 413.2L383.1 585.7L324.7 585.5L298.8 585.3Z" fill="#459ed7"/>
<path d="M298.8 418.2L310.6 417.9L324.7 417.7L383.1 417.4L383.1 581.5L324.7 581.2L310.6 581L298.8 580.7Z" fill="#52c3f0"/>
<path d="M298.8 423.1L310.6 422.6L324.6 422.2L361.1 421.9L383.1 421.8L383.1 577.1L361.1 577L324.6 576.7L310.6 576.3L298.8 575.8Z" fill="#7dd0ec"/>
<path d="M298.8 428.3L310.5 427.6L324.6 427.1L361 426.6L383.1 426.4L383.1 572.5L361 572.3L324.6 571.8L310.5 571.3L298.8 570.6Z" fill="#a8dde9"/>
<path d="M298.8 434.1L304.4 433.5L310.5 433.1L324.5 432.4L360.9 431.7L383.1 431.4L383.1 567.5L360.9 567.2L324.5 566.5L310.5 565.8L304.4 565.4L298.8 564.8Z" fill="#c4e6e2"/>
<path d="M298.8 440.5L304.3 439.7L310.4 439L317.1 438.5L324.4 438.1L339.6 437.7L360.7 437.2L383.1 436.9L383.1 562L360.7 561.7L339.6 561.2L324.4 560.8L317.1 560.4L310.4 559.9L304.3 559.2L298.8 558.4Z" fill="#dff0dc"/>
<path d="M298.8 447.7L304.2 446.6L310.3 445.8L316.9 445.1L324.3 444.5L339.5 443.9L360.6 443.2L383.1 442.8L383.1 556.1L360.6 555.7L339.5 555L324.3 554.4L316.9 553.8L310.3 553.1L304.2 552.3L298.8 551.2Z" fill="#f3f2c6"/>
<path d="M298.8 456.2L304.1 454.7L310.1 453.5L316.8 452.5L324.1 451.8L339.3 451L360.2 450.1L369.7 449.8L383.1 449.5L383.1 549.4L369.7 549.1L360.2 548.8L339.3 547.9L324.1 547.1L316.8 546.4L310.1 545.4L304.1 544.2L298.8 542.7Z" fill="#f7ebaa"/>
<path d="M298.8 466.9L301.3 465.8L304 464.8L306.8 463.8L309.8 463L313 462.2L316.4 461.6L323.9 460.5L329.5 460L338.9 459.3L359.6 458.1L369.2 457.6L383.1 457.3L383.1 541.6L369.2 541.3L359.6 540.8L338.9 539.6L329.5 538.9L323.9 538.4L316.4 537.3L313 536.7L309.8 535.9L306.8 535.1L304 534.1L301.3 533.1L298.8 532Z" fill="#f6d689"/>
<path d="M298.8 484.2L300.8 482.1L303 480.2L305.5 478.4L308.3 476.8L311.3 475.4L314.7 474.2L318.4 473.1L322.3 472.2L326.2 471.5L331.2 470.8L340.6 469.8L349.6 468.9L366.5 467.6L374.9 467.2L383.1 466.9L383.1 532L374.9 531.7L366.5 531.3L349.6 530L340.6 529.1L331.2 528.1L326.2 527.4L322.3 526.7L318.4 525.8L314.7 524.7L311.3 523.5L308.3 522.1L305.5 520.5L303 518.7L300.8 516.8L298.8 514.7Z" fill="#f4c168"/>
<path d="M323.8 499.5L323.9 498.6L324.1 497.7L324.8 496.1L326 494.6L327.7 493.2L329.6 492L332 490.8L335.3 489.5L339.3 488.2L343.6 486.9L348.7 485.7L357.1 484L362.6 483L366.9 482.4L371.8 481.8L377.6 481.4L383.1 481L383.1 517.9L377.6 517.5L371.8 517.1L366.9 516.5L362.6 515.9L357.1 514.9L348.7 513.2L343.6 512L339.3 510.7L335.3 509.4L332 508.1L329.6 506.9L327.7 505.7L326 504.3L324.8 502.8L324.1 501.2L323.9 500.3L323.8 499.5Z" fill="#f4a04c"/>
<path d="M298.8 413.6L324.7 413.4L383.1 413.2 M298.8 585.3L324.7 585.5L383.1 585.7 M298.8 418.2L310.6 417.9L324.7 417.7L383.1 417.4 M298.8 580.7L310.6 581L324.7 581.2L383.1 581.5 M298.8 423.1L310.6 422.6L324.6 422.2L361.1 421.9L383.1 421.8 M298.8 575.8L310.6 576.3L324.6 576.7L361.1 577L383.1 577.1 M298.8 428.3L310.5 427.6L324.6 427.1L361 426.6L383.1 426.4 M298.8 570.6L310.5 571.3L324.6 571.8L361 572.3L383.1 572.5 M298.8 434.1L304.4 433.5L310.5 433.1L324.5 432.4L360.9 431.7L383.1 431.4 M298.8 564.8L304.4 565.4L310.5 565.8L324.5 566.5L360.9 567.2L383.1 567.5 M298.8 440.5L304.3 439.7L310.4 439L317.1 438.5L324.4 438.1L339.6 437.7L360.7 437.2L383.1 436.9 M298.8 558.4L304.3 559.2L310.4 559.9L317.1 560.4L324.4 560.8L339.6 561.2L360.7 561.7L383.1 562 M298.8 447.7L304.2 446.6L310.3 445.8L316.9 445.1L324.3 444.5L339.5 443.9L360.6 443.2L383.1 442.8 M298.8 551.2L304.2 552.3L310.3 553.1L316.9 553.8L324.3 554.4L339.5 555L360.6 555.7L383.1 556.1 M298.8 456.2L304.1 454.7L310.1 453.5L316.8 452.5L324.1 451.8L339.3 451L360.2 450.1L369.7 449.8L383.1 449.5 M298.8 542.7L304.1 544.2L310.1 545.4L316.8 546.4L324.1 547.1L339.3 547.9L360.2 548.8L369.7 549.1L383.1 549.4 M298.8 466.9L301.3 465.8L304 464.8L306.8 463.8L309.8 463L313 462.2L316.4 461.6L323.9 460.5L329.5 460L338.9 459.3L359.6 458.1L369.2 457.6L383.1 457.3 M298.8 532L301.3 533.1L304 534.1L306.8 535.1L309.8 535.9L313 536.7L316.4 537.3L323.9 538.4L329.5 538.9L338.9 539.6L359.6 540.8L369.2 541.3L383.1 541.6 M298.8 484.2L300.8 482.1L303 480.2L305.5 478.4L308.3 476.8L311.3 475.4L314.7 474.2L318.4 473.1L322.3 472.2L326.2 471.5L331.2 470.8L340.6 469.8L349.6 468.9L366.5 467.6L374.9 467.2L383.1 466.9 M298.8 514.7L300.8 516.8L303 518.7L305.5 520.5L308.3 522.1L311.3 523.5L314.7 524.7L318.4 525.8L322.3 526.7L326.2 527.4L331.2 528.1L340.6 529.1L349.6 530L366.5 531.3L374.9 531.7L383.1 532 M383.1 481L377.6 481.4L371.8 481.8L366.9 482.4L362.6 483L357.1 484L348.7 485.7L343.6 486.9L339.3 488.2L335.3 489.5L332 490.8L329.6 492L327.7 493.2L326 494.6L324.8 496.1L324.1 497.7L323.9 498.6L323.8 499.5L323.8 499.5L323.9 500.3L324.1 501.2L324.8 502.8L326 504.3L327.7 505.7L329.6 506.9L332 508.1L335.3 509.4L339.3 510.7L343.6 512L348.7 513.2L357.1 514.9L362.6 515.9L366.9 516.5L371.8 517.1L377.6 517.5L383.1 517.9" fill="none" stroke="#000" stroke-width="1.55" stroke-linejoin="round"/>
</g>
<path d="M298.8 553.54 h1.3 M383.1 553.54 h-1.3 M298.8 517.48 h1.3 M383.1 517.48 h-1.3 M298.8 481.42 h1.3 M383.1 481.42 h-1.3 M298.8 445.36 h1.3 M383.1 445.36 h-1.3" stroke="#262626" stroke-width="1.12" fill="none"/>
<rect x="298.8" y="409.3" width="84.3" height="180.3" fill="none" stroke="#262626" stroke-width="1.25"/>
<clipPath id="c7"><rect x="405" y="409.3" width="84.3" height="180.3"/></clipPath>
<g clip-path="url(#c7)">
<rect x="405" y="409.3" width="84.3" height="180.3" fill="#3878be"/>
<path d="M405 413.2L489.3 413.1L489.3 585.8L405 585.7Z" fill="#459ed7"/>
<path d="M405 417.4L489.3 417.1L489.3 581.8L405 581.5Z" fill="#52c3f0"/>
<path d="M405 421.8L441.9 421.5L489.3 421.3L489.3 577.6L441.9 577.4L405 577.1Z" fill="#7dd0ec"/>
<path d="M405 426.4L441.9 426L489.3 425.7L489.3 573.2L441.9 572.9L405 572.5Z" fill="#a8dde9"/>
<path d="M405 431.4L441.9 430.9L489.3 430.5L489.3 568.4L441.9 568L405 567.5Z" fill="#c4e6e2"/>
<path d="M405 436.9L441.9 436.1L489.3 435.6L489.3 563.3L441.9 562.8L405 562Z" fill="#dff0dc"/>
<path d="M405 442.8L422.4 442.3L441.7 441.8L489.3 441.1L489.3 557.8L441.7 557.1L422.4 556.6L405 556.1Z" fill="#f3f2c6"/>
<path d="M405 449.5L422.4 448.8L441.7 448.2L464.2 447.7L489.3 447.3L489.3 551.6L464.2 551.2L441.7 550.7L422.4 550.1L405 549.4Z" fill="#f7ebaa"/>
<path d="M405 457.3L422.3 456.3L441.5 455.5L464.1 454.8L489.3 454.3L489.3 544.6L464.1 544.1L441.5 543.4L422.3 542.6L405 541.6Z" fill="#f6d689"/>
<path d="M405 466.9L421.8 465.5L441 464.3L463.7 463.4L489.3 462.6L489.3 536.3L463.7 535.5L441 534.6L421.8 533.4L405 532Z" fill="#f4c168"/>
<path d="M405 481L412.6 479.7L420.8 478.5L429.8 477.4L439.6 476.5L450.5 475.6L462.6 474.8L475.5 474L489.3 473.4L489.3 525.5L475.5 524.9L462.6 524.1L450.5 523.3L439.6 522.4L429.8 521.5L420.8 520.4L412.6 519.2L405 517.9Z" fill="#f4a04c"/>
<path d="M405 413.2L489.3 413.1 M405 585.7L489.3 585.8 M405 417.4L489.3 417.1 M405 581.5L489.3 581.8 M405 421.8L441.9 421.5L489.3 421.3 M405 577.1L441.9 577.4L489.3 577.6 M405 426.4L441.9 426L489.3 425.7 M405 572.5L441.9 572.9L489.3 573.2 M405 431.4L441.9 430.9L489.3 430.5 M405 567.5L441.9 568L489.3 568.4 M405 436.9L441.9 436.1L489.3 435.6 M405 562L441.9 562.8L489.3 563.3 M405 442.8L422.4 442.3L441.7 441.8L489.3 441.1 M405 556.1L422.4 556.6L441.7 557.1L489.3 557.8 M405 449.5L422.4 448.8L441.7 448.2L464.2 447.7L489.3 447.3 M405 549.4L422.4 550.1L441.7 550.7L464.2 551.2L489.3 551.6 M405 457.3L422.3 456.3L441.5 455.5L464.1 454.8L489.3 454.3 M405 541.6L422.3 542.6L441.5 543.4L464.1 544.1L489.3 544.6 M405 466.9L421.8 465.5L441 464.3L463.7 463.4L489.3 462.6 M405 532L421.8 533.4L441 534.6L463.7 535.5L489.3 536.3 M405 481L412.6 479.7L420.8 478.5L429.8 477.4L439.6 476.5L450.5 475.6L462.6 474.8L475.5 474L489.3 473.4 M405 517.9L412.6 519.2L420.8 520.4L429.8 521.5L439.6 522.4L450.5 523.3L462.6 524.1L475.5 524.9L489.3 525.5" fill="none" stroke="#000" stroke-width="1.55" stroke-linejoin="round"/>
</g>
<path d="M405 553.54 h1.3 M489.3 553.54 h-1.3 M405 517.48 h1.3 M489.3 517.48 h-1.3 M405 481.42 h1.3 M489.3 481.42 h-1.3 M405 445.36 h1.3 M489.3 445.36 h-1.3" stroke="#262626" stroke-width="1.12" fill="none"/>
<rect x="405" y="409.3" width="84.3" height="180.3" fill="none" stroke="#262626" stroke-width="1.25"/>
<clipPath id="c8"><rect x="511.2" y="409.3" width="84.3" height="180.3"/></clipPath>
<g clip-path="url(#c8)">
<rect x="511.2" y="409.3" width="84.3" height="180.3" fill="#3878be"/>
<path d="M511.2 417.1L595.5 417L595.5 581.9L511.2 581.8Z" fill="#52c3f0"/>
<path d="M511.2 425.7L539.6 425.6L595.5 425.5L595.5 573.4L539.6 573.3L511.2 573.2Z" fill="#a8dde9"/>
<path d="M511.2 435.6L539.6 435.3L595.5 435.1L595.5 563.8L539.6 563.6L511.2 563.3Z" fill="#dff0dc"/>
<path d="M511.2 447.3L525.6 446.9L539.5 446.7L595.5 446.5L595.5 552.4L539.5 552.2L525.6 552L511.2 551.6Z" fill="#f7ebaa"/>
<path d="M511.2 462.6L514.6 462.5L519.4 462.2L525.6 461.9L539.4 461.6L567.5 461.3L595.5 461.2L595.5 537.7L567.5 537.6L539.4 537.3L525.6 537L519.4 536.7L514.6 536.4L511.2 536.3Z" fill="#f4c168"/>
<path d="M514.2 499.5L514.2 498.9L514.5 498.3L515.7 496.7L517.3 495.1L518.9 494.1L521.1 493.2L523.8 492.4L526.8 491.7L529.8 491.2L534.6 490.6L539.9 490.1L551.7 489.4L575.7 488.6L595.5 488.3L595.5 510.6L575.7 510.3L551.7 509.5L539.9 508.8L534.6 508.3L529.8 507.7L526.8 507.2L523.8 506.5L521.1 505.7L518.9 504.8L517.3 503.8L515.7 502.2L514.5 500.6L514.2 500L514.2 499.5Z" fill="#f47f31"/>
<path d="M511.2 417.1L595.5 417 M511.2 581.8L595.5 581.9 M511.2 425.7L539.6 425.6L595.5 425.5 M511.2 573.2L539.6 573.3L595.5 573.4 M511.2 435.6L539.6 435.3L595.5 435.1 M511.2 563.3L539.6 563.6L595.5 563.8 M511.2 447.3L525.6 446.9L539.5 446.7L595.5 446.5 M511.2 551.6L525.6 552L539.5 552.2L595.5 552.4 M511.2 462.6L514.6 462.5L519.4 462.2L525.6 461.9L539.4 461.6L567.5 461.3L595.5 461.2 M511.2 536.3L514.6 536.4L519.4 536.7L525.6 537L539.4 537.3L567.5 537.6L595.5 537.7 M595.5 488.3L575.7 488.6L551.7 489.4L539.9 490.1L534.6 490.6L529.8 491.2L526.8 491.7L523.8 492.4L521.1 493.2L518.9 494.1L517.3 495.1L515.7 496.7L514.5 498.3L514.2 498.9L514.2 499.5L514.2 499.5L514.2 500L514.5 500.6L515.7 502.2L517.3 503.8L518.9 504.8L521.1 505.7L523.8 506.5L526.8 507.2L529.8 507.7L534.6 508.3L539.9 508.8L551.7 509.5L575.7 510.3L595.5 510.6" fill="none" stroke="#000" stroke-width="1.55" stroke-linejoin="round"/>
</g>
<path d="M511.2 553.54 h1.3 M595.5 553.54 h-1.3 M511.2 517.48 h1.3 M595.5 517.48 h-1.3 M511.2 481.42 h1.3 M595.5 481.42 h-1.3 M511.2 445.36 h1.3 M595.5 445.36 h-1.3" stroke="#262626" stroke-width="1.12" fill="none"/>
<rect x="511.2" y="409.3" width="84.3" height="180.3" fill="none" stroke="#262626" stroke-width="1.25"/>
<clipPath id="c9"><rect x="617.1" y="409.3" width="84.3" height="180.3"/></clipPath>
<g clip-path="url(#c9)">
<rect x="617.1" y="409.3" width="84.3" height="180.3" fill="#3878be"/>
<path d="M617.1 417L701.4 417L701.4 581.9L617.1 581.9Z" fill="#52c3f0"/>
<path d="M617.1 425.5L653.7 425.4L701.4 425.4L701.4 573.5L653.7 573.5L617.1 573.4Z" fill="#a8dde9"/>
<path d="M617.1 435.1L653.7 434.9L701.4 435L701.4 563.9L653.7 564L617.1 563.8Z" fill="#dff0dc"/>
<path d="M617.1 446.5L653.7 446.2L701.4 446.3L701.4 552.6L653.7 552.7L617.1 552.4Z" fill="#f7ebaa"/>
<path d="M617.1 461.2L634.8 460.8L653.6 460.6L680.6 460.6L701.4 460.8L701.4 538.1L680.6 538.3L653.6 538.3L634.8 538.1L617.1 537.7Z" fill="#f4c168"/>
<path d="M617.1 488.3L625 487.5L633.7 486.8L643 486.3L652.7 486L662.7 486L680.3 486L691.7 486.3L701.4 486.7L701.4 512.2L691.7 512.6L680.3 512.9L662.7 512.9L652.7 512.9L643 512.6L633.7 512.1L625 511.4L617.1 510.6Z" fill="#f47f31"/>
<path d="M617.1 417L701.4 417 M617.1 581.9L701.4 581.9 M617.1 425.5L653.7 425.4L701.4 425.4 M617.1 573.4L653.7 573.5L701.4 573.5 M617.1 435.1L653.7 434.9L701.4 435 M617.1 563.8L653.7 564L701.4 563.9 M617.1 446.5L653.7 446.2L701.4 446.3 M617.1 552.4L653.7 552.7L701.4 552.6 M617.1 461.2L634.8 460.8L653.6 460.6L680.6 460.6L701.4 460.8 M617.1 537.7L634.8 538.1L653.6 538.3L680.6 538.3L701.4 538.1 M617.1 488.3L625 487.5L633.7 486.8L643 486.3L652.7 486L662.7 486L680.3 486L691.7 486.3L701.4 486.7 M617.1 510.6L625 511.4L633.7 512.1L643 512.6L652.7 512.9L662.7 512.9L680.3 512.9L691.7 512.6L701.4 512.2" fill="none" stroke="#000" stroke-width="1.55" stroke-linejoin="round"/>
</g>
<path d="M617.1 553.54 h1.3 M701.4 553.54 h-1.3 M617.1 517.48 h1.3 M701.4 517.48 h-1.3 M617.1 481.42 h1.3 M701.4 481.42 h-1.3 M617.1 445.36 h1.3 M701.4 445.36 h-1.3" stroke="#262626" stroke-width="1.12" fill="none"/>
<rect x="617.1" y="409.3" width="84.3" height="180.3" fill="none" stroke="#262626" stroke-width="1.25"/>
<clipPath id="c10"><rect x="782.6" y="409.5" width="269.7" height="183"/></clipPath>
<g clip-path="url(#c10)">
<rect x="782.6" y="409.5" width="269.7" height="183" fill="#3878be"/>
<path d="M787.1 501L787.2 472.2L787.5 455.6L787.7 448.2L788 443.5L788.6 438.2L789.1 434.6L789.7 432L790.4 429.8L791.5 427.8L792.8 426.1L794.6 424.5L796.9 423L799.3 421.8L802 420.8L804.7 420.1L807.9 419.4L811.3 418.9L815.5 418.4L820.4 418.1L826.1 417.8L840.2 417.4L858.2 417.3L885.7 417.2L1052.3 417.1L1052.3 584.9L885.7 584.8L858.2 584.7L840.2 584.6L826.1 584.2L820.4 583.9L815.5 583.6L811.3 583.1L807.9 582.6L804.7 581.9L802 581.2L799.3 580.2L796.9 579L794.6 577.5L792.8 575.9L791.5 574.2L790.4 572.2L789.7 570L789.1 567.4L788.6 563.8L788 558.5L787.7 553.8L787.5 546.4L787.2 529.8L787.1 501Z" fill="#52c3f0"/>
<path d="M790.5 501L790.5 493L790.8 479L791.1 472.2L791.5 465.6L792 459.7L792.6 455.5L793.4 451.5L794.4 447.8L795.7 444.2L797.1 441.1L798.8 438.3L800.8 435.9L803.2 433.8L806 432L809 430.6L812.3 429.4L815.5 428.6L819.1 428L823.1 427.4L827.7 426.9L832.8 426.5L838.4 426.3L853.7 425.9L872.7 425.7L901 425.6L1052.3 425.5L1052.3 576.5L901 576.4L872.7 576.3L853.7 576.1L838.4 575.7L832.8 575.5L827.7 575.1L823.1 574.6L819.1 574L815.5 573.4L812.3 572.6L809 571.4L806 570L803.2 568.2L800.8 566.1L798.8 563.7L797.1 560.9L795.7 557.8L794.4 554.2L793.4 550.5L792.6 546.5L792 542.3L791.5 536.4L791.1 529.8L790.8 523L790.5 509L790.5 501Z" fill="#a8dde9"/>
<path d="M795.8 501L796 492L796.1 487.2L796.6 480.5L797.3 473.3L798.1 467.9L799.1 462.9L800.2 459L801.5 455.3L803.2 451.8L804.9 449L806.9 446.6L809 444.6L811.4 442.8L814.5 441.2L817.7 439.9L821.4 438.8L824.9 438L828.5 437.4L832.6 436.9L837.1 436.4L848.8 435.8L864.7 435.4L883.9 435.2L914.5 435.1L1052.3 435L1052.3 567L914.5 566.9L883.9 566.8L864.7 566.6L848.8 566.2L837.1 565.6L832.6 565.1L828.5 564.6L824.9 564L821.4 563.2L817.7 562.1L814.5 560.8L811.4 559.2L809 557.4L806.9 555.4L804.9 553L803.2 550.2L801.5 546.7L800.2 543L799.1 539.1L798.1 534.1L797.3 528.7L796.6 521.5L796.1 514.8L796 510L795.8 501Z" fill="#dff0dc"/>
<path d="M802.6 501L802.7 494.9L802.9 490.6L803.4 485.3L804.2 479.7L805.1 475.3L806.2 471.2L807.6 467.4L809.2 464L811 461.1L812.8 458.9L815 456.7L817.5 454.8L820.3 453.2L823.3 451.8L826.7 450.6L830.6 449.6L834.1 448.9L838 448.4L842.1 447.9L847.2 447.5L859.4 446.9L874.9 446.5L894.7 446.3L925.8 446.2L1052.3 446.1L1052.3 555.9L925.8 555.8L894.7 555.7L874.9 555.5L859.4 555.1L847.2 554.5L842.1 554.1L838 553.6L834.1 553.1L830.6 552.4L826.7 551.4L823.3 550.2L820.3 548.8L817.5 547.2L815 545.3L812.8 543.1L811 540.9L809.2 538L807.6 534.6L806.2 530.8L805.1 526.7L804.2 522.3L803.4 516.7L802.9 511.4L802.7 507.1L802.6 501Z" fill="#f7ebaa"/>
<path d="M812.6 501L812.8 496L813.2 492.1L813.8 488.6L814.5 486L815.5 482.9L816.8 479.7L818.2 477.2L820 474.6L821.8 472.5L824 470.5L826.3 468.9L828.9 467.3L831.9 466L835 465L838.4 464.1L842.5 463.3L846.2 462.7L850.4 462.2L860 461.4L871.7 460.9L887.1 460.5L908.7 460.3L937.5 460.2L1052.3 460.1L1052.3 541.9L937.5 541.8L908.7 541.7L887.1 541.5L871.7 541.1L860 540.6L850.4 539.8L846.2 539.3L842.5 538.7L838.4 537.9L835 537L831.9 536L828.9 534.7L826.3 533.1L824 531.5L821.8 529.5L820 527.4L818.2 524.8L816.8 522.3L815.5 519.1L814.5 516L813.8 513.4L813.2 509.9L812.8 506L812.6 501Z" fill="#f4c168"/>
<path d="M841.2 501L841.6 498.5L842 497.3L842.6 496.2L843.6 494.7L845.1 493.2L846.5 492.1L848.2 491L850.1 490L852.4 489L854.8 488.2L857.6 487.3L860.5 486.7L863.6 486.1L867.2 485.5L874.9 484.7L883.5 484.1L893.8 483.7L907.8 483.3L924.4 483L968.1 482.8L1052.3 482.7L1052.3 519.3L968.1 519.2L924.4 519L907.8 518.7L893.8 518.3L883.5 517.9L874.9 517.3L867.2 516.5L863.6 515.9L860.5 515.3L857.6 514.7L854.8 513.8L852.4 513L850.1 512L848.2 511L846.5 509.9L845.1 508.8L843.6 507.3L842.6 505.8L842 504.7L841.6 503.5L841.2 501Z" fill="#f47f31"/>
<path d="M1052.3 417.1L885.7 417.2L858.2 417.3L840.2 417.4L826.1 417.8L820.4 418.1L815.5 418.4L811.3 418.9L807.9 419.4L804.7 420.1L802 420.8L799.3 421.8L796.9 423L794.6 424.5L792.8 426.1L791.5 427.8L790.4 429.8L789.7 432L789.1 434.6L788.6 438.2L788 443.5L787.7 448.2L787.5 455.6L787.2 472.2L787.1 501L787.1 501L787.2 529.8L787.5 546.4L787.7 553.8L788 558.5L788.6 563.8L789.1 567.4L789.7 570L790.4 572.2L791.5 574.2L792.8 575.9L794.6 577.5L796.9 579L799.3 580.2L802 581.2L804.7 581.9L807.9 582.6L811.3 583.1L815.5 583.6L820.4 583.9L826.1 584.2L840.2 584.6L858.2 584.7L885.7 584.8L1052.3 584.9 M1052.3 425.5L901 425.6L872.7 425.7L853.7 425.9L838.4 426.3L832.8 426.5L827.7 426.9L823.1 427.4L819.1 428L815.5 428.6L812.3 429.4L809 430.6L806 432L803.2 433.8L800.8 435.9L798.8 438.3L797.1 441.1L795.7 444.2L794.4 447.8L793.4 451.5L792.6 455.5L792 459.7L791.5 465.6L791.1 472.2L790.8 479L790.5 493L790.5 501L790.5 501L790.5 509L790.8 523L791.1 529.8L791.5 536.4L792 542.3L792.6 546.5L793.4 550.5L794.4 554.2L795.7 557.8L797.1 560.9L798.8 563.7L800.8 566.1L803.2 568.2L806 570L809 571.4L812.3 572.6L815.5 573.4L819.1 574L823.1 574.6L827.7 575.1L832.8 575.5L838.4 575.7L853.7 576.1L872.7 576.3L901 576.4L1052.3 576.5 M1052.3 435L914.5 435.1L883.9 435.2L864.7 435.4L848.8 435.8L837.1 436.4L832.6 436.9L828.5 437.4L824.9 438L821.4 438.8L817.7 439.9L814.5 441.2L811.4 442.8L809 444.6L806.9 446.6L804.9 449L803.2 451.8L801.5 455.3L800.2 459L799.1 462.9L798.1 467.9L797.3 473.3L796.6 480.5L796.1 487.2L796 492L795.8 501L795.8 501L796 510L796.1 514.8L796.6 521.5L797.3 528.7L798.1 534.1L799.1 539.1L800.2 543L801.5 546.7L803.2 550.2L804.9 553L806.9 555.4L809 557.4L811.4 559.2L814.5 560.8L817.7 562.1L821.4 563.2L824.9 564L828.5 564.6L832.6 565.1L837.1 565.6L848.8 566.2L864.7 566.6L883.9 566.8L914.5 566.9L1052.3 567 M1052.3 446.1L925.8 446.2L894.7 446.3L874.9 446.5L859.4 446.9L847.2 447.5L842.1 447.9L838 448.4L834.1 448.9L830.6 449.6L826.7 450.6L823.3 451.8L820.3 453.2L817.5 454.8L815 456.7L812.8 458.9L811 461.1L809.2 464L807.6 467.4L806.2 471.2L805.1 475.3L804.2 479.7L803.4 485.3L802.9 490.6L802.7 494.9L802.6 501L802.6 501L802.7 507.1L802.9 511.4L803.4 516.7L804.2 522.3L805.1 526.7L806.2 530.8L807.6 534.6L809.2 538L811 540.9L812.8 543.1L815 545.3L817.5 547.2L820.3 548.8L823.3 550.2L826.7 551.4L830.6 552.4L834.1 553.1L838 553.6L842.1 554.1L847.2 554.5L859.4 555.1L874.9 555.5L894.7 555.7L925.8 555.8L1052.3 555.9 M1052.3 460.1L937.5 460.2L908.7 460.3L887.1 460.5L871.7 460.9L860 461.4L850.4 462.2L846.2 462.7L842.5 463.3L838.4 464.1L835 465L831.9 466L828.9 467.3L826.3 468.9L824 470.5L821.8 472.5L820 474.6L818.2 477.2L816.8 479.7L815.5 482.9L814.5 486L813.8 488.6L813.2 492.1L812.8 496L812.6 501L812.6 501L812.8 506L813.2 509.9L813.8 513.4L814.5 516L815.5 519.1L816.8 522.3L818.2 524.8L820 527.4L821.8 529.5L824 531.5L826.3 533.1L828.9 534.7L831.9 536L835 537L838.4 537.9L842.5 538.7L846.2 539.3L850.4 539.8L860 540.6L871.7 541.1L887.1 541.5L908.7 541.7L937.5 541.8L1052.3 541.9 M1052.3 482.7L968.1 482.8L924.4 483L907.8 483.3L893.8 483.7L883.5 484.1L874.9 484.7L867.2 485.5L863.6 486.1L860.5 486.7L857.6 487.3L854.8 488.2L852.4 489L850.1 490L848.2 491L846.5 492.1L845.1 493.2L843.6 494.7L842.6 496.2L842 497.3L841.6 498.5L841.2 501L841.2 501L841.6 503.5L842 504.7L842.6 505.8L843.6 507.3L845.1 508.8L846.5 509.9L848.2 511L850.1 512L852.4 513L854.8 513.8L857.6 514.7L860.5 515.3L863.6 515.9L867.2 516.5L874.9 517.3L883.5 517.9L893.8 518.3L907.8 518.7L924.4 519L968.1 519.2L1052.3 519.3" fill="none" stroke="#000" stroke-width="1.6" stroke-linejoin="round"/>
</g>
<path d="M872.5 592.5 v-2.7 M872.5 409.5 v2.7 M962.4 592.5 v-2.7 M962.4 409.5 v2.7 M782.6 555.9 h2.7 M1052.3 555.9 h-2.7 M782.6 519.3 h2.7 M1052.3 519.3 h-2.7 M782.6 482.7 h2.7 M1052.3 482.7 h-2.7 M782.6 446.1 h2.7 M1052.3 446.1 h-2.7" stroke="#262626" stroke-width="1.12" fill="none"/>
<rect x="782.6" y="409.5" width="269.7" height="183" fill="none" stroke="#262626" stroke-width="1.25"/>
<clipPath id="c11"><rect x="1124.7" y="409.5" width="270" height="180.3"/></clipPath>
<g clip-path="url(#c11)">
<rect x="1124.7" y="409.5" width="270" height="180.3" fill="#3878be"/>
<path d="M1124.7 417L1394.7 417L1394.7 582.3L1124.7 582.3Z" fill="#52c3f0"/>
<path d="M1124.7 425.3L1394.7 425.3L1394.7 574L1124.7 574Z" fill="#a8dde9"/>
<path d="M1124.7 434.6L1394.7 434.6L1394.7 564.7L1124.7 564.7Z" fill="#dff0dc"/>
<path d="M1124.7 445.6L1394.7 445.6L1394.7 553.7L1124.7 553.7Z" fill="#f7ebaa"/>
<path d="M1124.7 459.3L1394.7 459.3L1394.7 540L1124.7 540Z" fill="#f4c168"/>
<path d="M1124.7 481.6L1394.7 481.6L1394.7 517.7L1124.7 517.7Z" fill="#f47f31"/>
<path d="M1124.7 417L1394.7 417 M1124.7 582.3L1394.7 582.3 M1124.7 425.3L1394.7 425.3 M1124.7 574L1394.7 574 M1124.7 434.6L1394.7 434.6 M1124.7 564.7L1394.7 564.7 M1124.7 445.6L1394.7 445.6 M1124.7 553.7L1394.7 553.7 M1124.7 459.3L1394.7 459.3 M1124.7 540L1394.7 540 M1124.7 481.6L1394.7 481.6 M1124.7 517.7L1394.7 517.7" fill="none" stroke="#000" stroke-width="1.6" stroke-linejoin="round"/>
</g>
<path d="M1214.7 589.8 v-2.7 M1214.7 409.5 v2.7 M1304.7 589.8 v-2.7 M1304.7 409.5 v2.7 M1124.7 553.74 h2.7 M1394.7 553.74 h-2.7 M1124.7 517.68 h2.7 M1394.7 517.68 h-2.7 M1124.7 481.62 h2.7 M1394.7 481.62 h-2.7 M1124.7 445.56 h2.7 M1394.7 445.56 h-2.7" stroke="#262626" stroke-width="1.12" fill="none"/>
<rect x="1124.7" y="409.5" width="270" height="180.3" fill="none" stroke="#262626" stroke-width="1.25"/>
<defs><linearGradient id="cbg" x1="0" y1="0" x2="0" y2="1"><stop offset="0" stop-color="#f47f31"/><stop offset="0.17" stop-color="#f4c168"/><stop offset="0.33" stop-color="#f7ebaa"/><stop offset="0.5" stop-color="#dff0dc"/><stop offset="0.67" stop-color="#a8dde9"/><stop offset="0.83" stop-color="#52c3f0"/><stop offset="1" stop-color="#3878be"/></linearGradient></defs>
<rect x="1295.6" y="51.4" width="14.6" height="180" fill="url(#cbg)" stroke="#262626" stroke-width="1.2"/>
<path d="M1310.2 111.4 h-4 M1310.2 171.4 h-4" stroke="#262626" stroke-width="1.2" fill="none"/>
<text transform="translate(1318 61.75) scale(1.1 1)" font-family="'Liberation Serif', serif" font-size="31" text-anchor="start" fill="#262626" stroke="#262626" stroke-width="0.22">0.12</text>
<text transform="translate(1318 121.6) scale(1.1 1)" font-family="'Liberation Serif', serif" font-size="31" text-anchor="start" fill="#262626" stroke="#262626" stroke-width="0.22">0.08</text>
<text transform="translate(1318 180.8) scale(1.1 1)" font-family="'Liberation Serif', serif" font-size="31" text-anchor="start" fill="#262626" stroke="#262626" stroke-width="0.22">0.04</text>
<text transform="translate(1318 239.5) scale(1.1 1)" font-family="'Liberation Serif', serif" font-size="31" text-anchor="start" fill="#262626" stroke="#262626" stroke-width="0.22">0</text>
<text transform="translate(1280.5 25.6) scale(1.2 1)" font-family="'Liberation Serif', serif" font-size="35" font-style="italic" fill="#111" stroke="#111" stroke-width="0.3">ϵ<tspan font-size="26" dy="6.2">p</tspan></text>
<text transform="translate(85.25 269.6) scale(1.1 1)" font-family="'Liberation Serif', serif" font-size="31" text-anchor="middle" fill="#262626" stroke="#262626" stroke-width="0.22">0</text>
<text transform="translate(175.5 269.6) scale(1.1 1)" font-family="'Liberation Serif', serif" font-size="31" text-anchor="middle" fill="#262626" stroke="#262626" stroke-width="0.22">0.5</text>
<text transform="translate(265.7 269.6) scale(1.1 1)" font-family="'Liberation Serif', serif" font-size="31" text-anchor="middle" fill="#262626" stroke="#262626" stroke-width="0.22">1</text>
<text transform="translate(355 269.6) scale(1.1 1)" font-family="'Liberation Serif', serif" font-size="31" text-anchor="middle" fill="#262626" stroke="#262626" stroke-width="0.22">1.5</text>
<text transform="translate(531.9 269.6) scale(1.1 1)" font-family="'Liberation Serif', serif" font-size="31" text-anchor="middle" fill="#262626" stroke="#262626" stroke-width="0.22">0</text>
<text transform="translate(622.5 269.6) scale(1.1 1)" font-family="'Liberation Serif', serif" font-size="31" text-anchor="middle" fill="#262626" stroke="#262626" stroke-width="0.22">0.5</text>
<text transform="translate(711.9 269.6) scale(1.1 1)" font-family="'Liberation Serif', serif" font-size="31" text-anchor="middle" fill="#262626" stroke="#262626" stroke-width="0.22">1</text>
<text transform="translate(798 269.6) scale(1.1 1)" font-family="'Liberation Serif', serif" font-size="31" text-anchor="middle" fill="#262626" stroke="#262626" stroke-width="0.22">1.5</text>
<text transform="translate(951.5 269.6) scale(1.1 1)" font-family="'Liberation Serif', serif" font-size="31" text-anchor="middle" fill="#262626" stroke="#262626" stroke-width="0.22">1.5</text>
<text transform="translate(1040.75 269.6) scale(1.1 1)" font-family="'Liberation Serif', serif" font-size="31" text-anchor="middle" fill="#262626" stroke="#262626" stroke-width="0.22">2</text>
<text transform="translate(1130.4 269.6) scale(1.1 1)" font-family="'Liberation Serif', serif" font-size="31" text-anchor="middle" fill="#262626" stroke="#262626" stroke-width="0.22">2.5</text>
<text transform="translate(1220 269.6) scale(1.1 1)" font-family="'Liberation Serif', serif" font-size="31" text-anchor="middle" fill="#262626" stroke="#262626" stroke-width="0.22">3</text>
<text transform="translate(218.4 309.5) scale(1.2 1)" font-family="'Liberation Serif', serif" font-size="31" text-anchor="middle" fill="#262626" font-style="italic" stroke="#262626" stroke-width="0.22">t</text>
<text transform="translate(659.9 309.5) scale(1.2 1)" font-family="'Liberation Serif', serif" font-size="31" text-anchor="middle" fill="#262626" font-style="italic" stroke="#262626" stroke-width="0.22">t</text>
<text transform="translate(1082.4 309.5) scale(1.2 1)" font-family="'Liberation Serif', serif" font-size="31" text-anchor="middle" fill="#262626" font-style="italic" stroke="#262626" stroke-width="0.22">t</text>
<text transform="translate(78.4 73.9) scale(1.1 1)" font-family="'Liberation Serif', serif" font-size="31" text-anchor="end" fill="#262626" stroke="#262626" stroke-width="0.22">1</text>
<text transform="translate(78.3 157.3) scale(1.1 1)" font-family="'Liberation Serif', serif" font-size="31" text-anchor="end" fill="#262626" stroke="#262626" stroke-width="0.22">0.5</text>
<text transform="translate(77.9 244.4) scale(1.1 1)" font-family="'Liberation Serif', serif" font-size="31" text-anchor="end" fill="#262626" stroke="#262626" stroke-width="0.22">0</text>
<text transform="translate(15 146) rotate(-90) scale(1.0 1)" font-family="'Liberation Serif', serif" font-size="34" font-style="italic" text-anchor="middle" fill="#262626" stroke="#262626" stroke-width="0.3">x</text>
<text transform="translate(84.5 626.9) scale(1.1 1)" font-family="'Liberation Serif', serif" font-size="31" text-anchor="middle" fill="#262626" stroke="#262626" stroke-width="0.22">0</text>
<text transform="translate(192.5 626.9) scale(1.1 1)" font-family="'Liberation Serif', serif" font-size="31" text-anchor="middle" fill="#262626" stroke="#262626" stroke-width="0.22">0.5</text>
<text transform="translate(294.8 626.9) scale(1.1 1)" font-family="'Liberation Serif', serif" font-size="31" text-anchor="middle" fill="#262626" stroke="#262626" stroke-width="0.22">1</text>
<text transform="translate(395.6 626.9) scale(1.1 1)" font-family="'Liberation Serif', serif" font-size="31" text-anchor="middle" fill="#262626" stroke="#262626" stroke-width="0.22">1.5</text>
<text transform="translate(497.25 626.9) scale(1.1 1)" font-family="'Liberation Serif', serif" font-size="31" text-anchor="middle" fill="#262626" stroke="#262626" stroke-width="0.22">2</text>
<text transform="translate(600.4 626.9) scale(1.1 1)" font-family="'Liberation Serif', serif" font-size="31" text-anchor="middle" fill="#262626" stroke="#262626" stroke-width="0.22">2.5</text>
<text transform="translate(699.75 626.9) scale(1.1 1)" font-family="'Liberation Serif', serif" font-size="31" text-anchor="middle" fill="#262626" stroke="#262626" stroke-width="0.22">3</text>
<text transform="translate(780.25 625.6) scale(1.1 1)" font-family="'Liberation Serif', serif" font-size="31" text-anchor="middle" fill="#262626" stroke="#262626" stroke-width="0.22">0</text>
<text transform="translate(871.5 625.6) scale(1.1 1)" font-family="'Liberation Serif', serif" font-size="31" text-anchor="middle" fill="#262626" stroke="#262626" stroke-width="0.22">0.5</text>
<text transform="translate(961.1 625.6) scale(1.1 1)" font-family="'Liberation Serif', serif" font-size="31" text-anchor="middle" fill="#262626" stroke="#262626" stroke-width="0.22">1</text>
<text transform="translate(1050 625.6) scale(1.1 1)" font-family="'Liberation Serif', serif" font-size="31" text-anchor="middle" fill="#262626" stroke="#262626" stroke-width="0.22">1.5</text>
<text transform="translate(1125.5 625.6) scale(1.1 1)" font-family="'Liberation Serif', serif" font-size="31" text-anchor="middle" fill="#262626" stroke="#262626" stroke-width="0.22">1.5</text>
<text transform="translate(1214.1 625.6) scale(1.1 1)" font-family="'Liberation Serif', serif" font-size="31" text-anchor="middle" fill="#262626" stroke="#262626" stroke-width="0.22">2</text>
<text transform="translate(1303.6 625.6) scale(1.1 1)" font-family="'Liberation Serif', serif" font-size="31" text-anchor="middle" fill="#262626" stroke="#262626" stroke-width="0.22">2.5</text>
<text transform="translate(1394.3 625.6) scale(1.1 1)" font-family="'Liberation Serif', serif" font-size="31" text-anchor="middle" fill="#262626" stroke="#262626" stroke-width="0.22">3</text>
<text transform="translate(398.4 667.3) scale(1.2 1)" font-family="'Liberation Serif', serif" font-size="31" text-anchor="middle" fill="#262626" font-style="italic" stroke="#262626" stroke-width="0.22">t</text>
<text transform="translate(916.6 667.3) scale(1.2 1)" font-family="'Liberation Serif', serif" font-size="31" text-anchor="middle" fill="#262626" font-style="italic" stroke="#262626" stroke-width="0.22">t</text>
<text transform="translate(1264.7 667.3) scale(1.2 1)" font-family="'Liberation Serif', serif" font-size="31" text-anchor="middle" fill="#262626" font-style="italic" stroke="#262626" stroke-width="0.22">t</text>
<text transform="translate(79.2 425.8) scale(1.1 1)" font-family="'Liberation Serif', serif" font-size="31" text-anchor="end" fill="#262626" stroke="#262626" stroke-width="0.22">1</text>
<text transform="translate(80 509.5) scale(1.1 1)" font-family="'Liberation Serif', serif" font-size="31" text-anchor="end" fill="#262626" stroke="#262626" stroke-width="0.22">0.5</text>
<text transform="translate(80 598) scale(1.1 1)" font-family="'Liberation Serif', serif" font-size="31" text-anchor="end" fill="#262626" stroke="#262626" stroke-width="0.22">0</text>
<text transform="translate(16.5 497.7) rotate(-90) scale(1.0 1)" font-family="'Liberation Serif', serif" font-size="34" font-style="italic" text-anchor="middle" fill="#262626" stroke="#262626" stroke-width="0.3">x</text>
<text transform="translate(16.3 23.5) scale(1.16 1)" font-family="'Liberation Serif', serif" font-size="30" text-anchor="start" fill="#111" stroke="#111" stroke-width="0.15">(a)</text>
<text transform="translate(454.3 23.5) scale(1.16 1)" font-family="'Liberation Serif', serif" font-size="30" text-anchor="start" fill="#111" stroke="#111" stroke-width="0.15">(b)</text>
<text transform="translate(896.3 23.5) scale(1.16 1)" font-family="'Liberation Serif', serif" font-size="30" text-anchor="start" fill="#111" stroke="#111" stroke-width="0.15">(c)</text>
<text transform="translate(28.8 380.5) scale(1.16 1)" font-family="'Liberation Serif', serif" font-size="30" text-anchor="start" fill="#111" stroke="#111" stroke-width="0.15">(d)</text>
<text transform="translate(744.8 380.5) scale(1.16 1)" font-family="'Liberation Serif', serif" font-size="30" text-anchor="start" fill="#111" stroke="#111" stroke-width="0.15">(e)</text>
<text transform="translate(1086.5 380.5) scale(1.16 1)" font-family="'Liberation Serif', serif" font-size="30" text-anchor="start" fill="#111" stroke="#111" stroke-width="0.15">(f)</text>
<text transform="translate(438.9 159.2) scale(1 1)" font-family="'Liberation Sans', sans-serif" font-size="28" text-anchor="middle" fill="#111" stroke="#111" stroke-width="1">+</text>
<text transform="translate(870.6 157.2) scale(1 1)" font-family="'Liberation Sans', sans-serif" font-size="27" text-anchor="middle" fill="#111" stroke="#111" stroke-width="0.9">=</text>
</svg>
</body></html>
